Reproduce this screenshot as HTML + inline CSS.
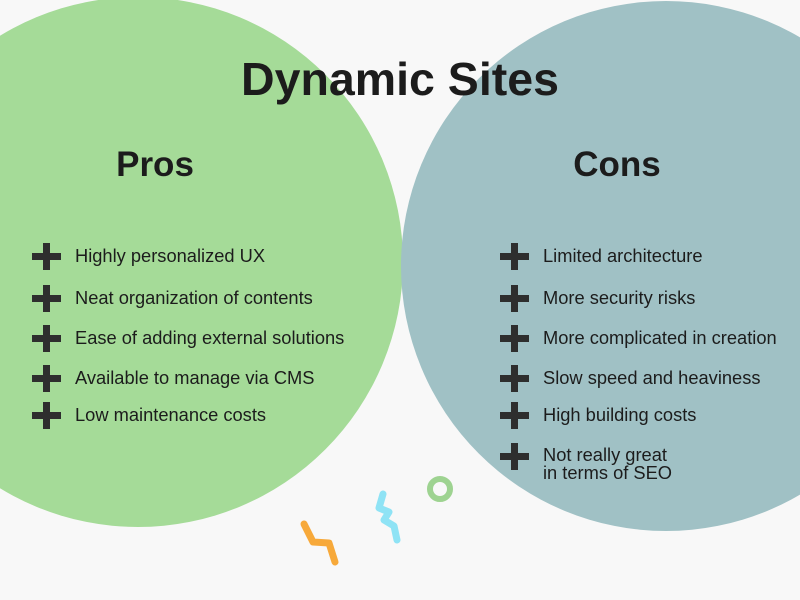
<!DOCTYPE html>
<html><head><style>
body{margin:0;width:800px;height:600px;background:#f8f8f8;overflow:hidden;position:relative;font-family:"Liberation Sans",sans-serif;color:#1c1c1c}
.t{position:absolute;font-size:18.3px;line-height:18px;white-space:nowrap}
.p{position:absolute;width:29px;height:27px}
.p:before{content:"";position:absolute;left:0;top:10px;width:29px;height:7px;background:#2e2e2e}
.p:after{content:"";position:absolute;left:11px;top:0;width:7px;height:27px;background:#2e2e2e}
h1,h2{position:absolute;margin:0;font-weight:bold;text-align:center}
</style></head><body>
<svg width="800" height="600" style="position:absolute;left:0;top:0">
<circle cx="138" cy="262" r="265" fill="#a5db98"/>
<circle cx="666" cy="266" r="265" fill="#a0c1c5"/>
<circle cx="440" cy="489" r="10" fill="none" stroke="#9ed391" stroke-width="6"/>
<polyline points="304,524 313,542 329,543 335,562" fill="none" stroke="#f7a93a" stroke-width="7" stroke-linecap="round" stroke-linejoin="round"/>
<polyline points="383,494 379,508 389,512 384,520 394,526 397,540" fill="none" stroke="#8fe3f5" stroke-width="7" stroke-linecap="round" stroke-linejoin="round"/>
</svg>
<h1 style="left:0;width:800px;top:52px;font-size:46.5px">Dynamic Sites</h1>
<h2 style="left:55px;width:200px;top:145px;font-size:35px">Pros</h2>
<h2 style="left:517px;width:200px;top:145px;font-size:35px">Cons</h2>

<div class="p" style="left:32px;top:243px"></div><div class="t" style="left:75px;top:247px">Highly personalized UX</div>
<div class="p" style="left:32px;top:285px"></div><div class="t" style="left:75px;top:289px">Neat organization of contents</div>
<div class="p" style="left:32px;top:325px"></div><div class="t" style="left:75px;top:329px">Ease of adding external solutions</div>
<div class="p" style="left:32px;top:365px"></div><div class="t" style="left:75px;top:369px">Available to manage via CMS</div>
<div class="p" style="left:32px;top:402px"></div><div class="t" style="left:75px;top:406px">Low maintenance costs</div>

<div class="p" style="left:500px;top:243px"></div><div class="t" style="left:543px;top:247px">Limited architecture</div>
<div class="p" style="left:500px;top:285px"></div><div class="t" style="left:543px;top:289px">More security risks</div>
<div class="p" style="left:500px;top:325px"></div><div class="t" style="left:543px;top:329px">More complicated in creation</div>
<div class="p" style="left:500px;top:365px"></div><div class="t" style="left:543px;top:369px">Slow speed and heaviness</div>
<div class="p" style="left:500px;top:402px"></div><div class="t" style="left:543px;top:406px">High building costs</div>
<div class="p" style="left:500px;top:443px"></div><div class="t" style="left:543px;top:446px">Not really great<br>in terms of SEO</div>
</body></html>
